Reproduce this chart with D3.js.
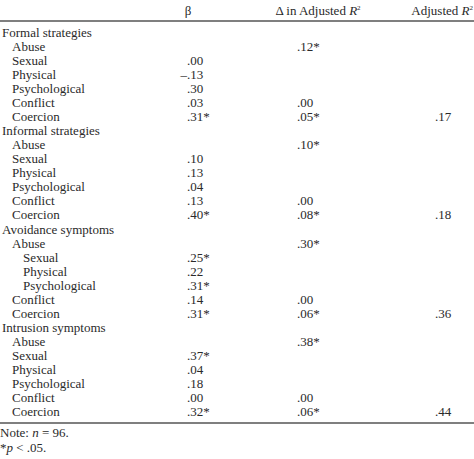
<!DOCTYPE html>
<html><head><meta charset="utf-8">
<script src="https://d3js.org/d3.v7.min.js"></script>
<style>body{margin:0;background:#fff}text{font-family:"Liberation Serif","DejaVu Serif",serif;font-size:13px;fill:#2a2a2a}</style>
</head><body><svg id="c" width="474" height="459"></svg>
<script>
const rowLabels=["Formal strategies","Abuse","Sexual","Physical","Psychological","Conflict","Coercion",
"Informal strategies","Abuse","Sexual","Physical","Psychological","Conflict","Coercion",
"Avoidance symptoms","Abuse","Sexual","Physical","Psychological","Conflict","Coercion",
"Intrusion symptoms","Abuse","Sexual","Physical","Psychological","Conflict","Coercion"];
const rowIndent=[0,1,1,1,1,1,1, 0,1,1,1,1,1,1, 0,1,2,2,2,1,1, 0,1,1,1,1,1,1];
const beta=["","",".00","–.13",".30",".03",".31*", "","",".10",".13",".04",".13",".40*",
"","",".25*",".22",".31*",".14",".31*", "","",".37*",".04",".18",".00",".32*"];
const delta=["",".12*","","","",".00",".05*", "",".10*","","","",".00",".08*",
"",".30*","","","",".00",".06*", "",".38*","","","",".00",".06*"];
const adjR2=["","","","","","",".17", "","","","","","",".18", "","","","","","",".36", "","","","","","",".44"];
const headers=["β","Δ in Adjusted ","Adjusted "];
</script>
<script>
const svg=d3.select("#c");
const y=d3.scalePoint().domain(d3.range(rowLabels.length)).range([37,416]);
const indentX=d3.scaleOrdinal().domain([0,1,2]).range([2,12,23]);
const colX=d3.scaleOrdinal().domain(["beta","delta","adj"]).range([187,297,435]);
svg.append("text").attr("x",188).attr("y",15).attr("text-anchor","middle").text(headers[0]);
const h2=svg.append("text").attr("x",318).attr("y",15).attr("text-anchor","middle");
h2.append("tspan").text(headers[1]);h2.append("tspan").attr("font-style","italic").text("R");
h2.append("tspan").attr("dy",-5).attr("font-size","7px").text("2");
const h3=svg.append("text").attr("x",473).attr("y",15).attr("text-anchor","end");
h3.append("tspan").text(headers[2]);h3.append("tspan").attr("font-style","italic").text("R");
h3.append("tspan").attr("dy",-5).attr("font-size","7px").text("2");
svg.append("line").attr("x1",0).attr("x2",474).attr("y1",21).attr("y2",21).attr("stroke","#555").attr("stroke-width",1.6);
svg.append("line").attr("x1",0).attr("x2",474).attr("y1",423).attr("y2",423).attr("stroke","#555").attr("stroke-width",1.6);
const g=svg.append("g");
rowLabels.forEach((l,i)=>{
  g.append("text").attr("x",indentX(rowIndent[i])).attr("y",y(i)).text(l);
  [["beta",beta[i]],["delta",delta[i]],["adj",adjR2[i]]].forEach(([c,v])=>{
    if(!v)return;
    const t=g.append("text").attr("x",colX(c)).attr("y",y(i)).text(v);
    if(v.startsWith("–")){const w=t.node().getSubStringLength(0,1);t.attr("x",colX(c)-w);}
  });
});
const n1=svg.append("text").attr("x",0).attr("y",437);
n1.append("tspan").text("Note: ");n1.append("tspan").attr("font-style","italic").text("n");n1.append("tspan").text(" = 96.");
const n2=svg.append("text").attr("x",0).attr("y",452);
n2.append("tspan").text("*");n2.append("tspan").attr("font-style","italic").text("p");n2.append("tspan").text(" < .05.");
</script></body></html>
